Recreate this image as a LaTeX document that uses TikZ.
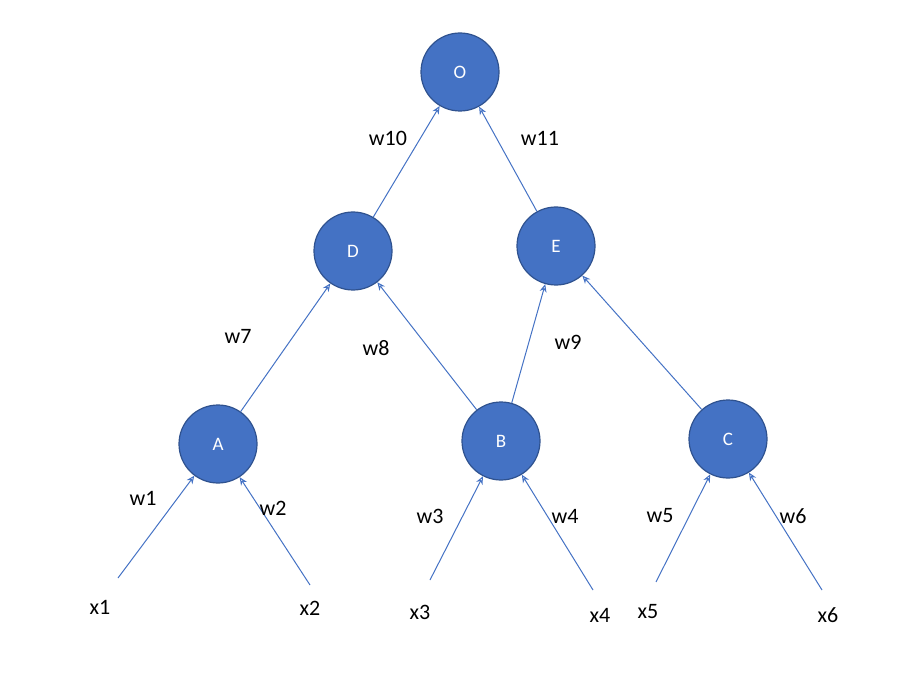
\documentclass[tikz,border=0pt]{standalone}
\usepackage{fontspec}
\setmainfont{Carlito}
\usetikzlibrary{arrows.meta}
\definecolor{nodefill}{RGB}{68, 114, 196}
\definecolor{nodeline}{RGB}{47, 82, 143}
\definecolor{edge}{RGB}{68, 114, 196}

\begin{document}
\begin{tikzpicture}[x=1pt, y=-1pt,
            neuron/.style={circle, draw=nodeline, line width=1.2pt, fill=nodefill, minimum size=78pt, inner sep=0pt, text=white, font=\fontsize{19}{22}\selectfont},
            leaf/.style={font=\fontsize{22}{26}\selectfont},
            weight/.style={font=\fontsize{22}{26}\selectfont},
            link/.style={-{Stealth[length=8pt, width=7pt, open]}, edge, line width=1pt}
        ]
            \useasboundingbox (0,0) rectangle (906,682);
            \node (o) [neuron] at (460,72) {O};
            \node (d) [neuron] at (353,251) {D};
            \node (e) [neuron] at (556,246) {E};
            \node (a) [neuron] at (218,444) {A};
            \node (b) [neuron] at (501,441) {B};
            \node (c) [neuron] at (728,439) {C};

            \node (x1) [leaf] at (100,607) {x1};
            \node (x2) [leaf] at (310,608) {x2};
            \node (x3) [leaf] at (420,612) {x3};
            \node (x4) [leaf] at (600,615) {x4};
            \node (x5) [leaf] at (648,612) {x5};
            \node (x6) [leaf] at (828,615) {x6};

            \coordinate (s1) at (118,578);
            \coordinate (s2) at (310,585);
            \coordinate (s3) at (430,580);
            \coordinate (s4) at (593,590);
            \coordinate (s5) at (656,582);
            \coordinate (s6) at (822,590);

            \draw[link] (s1) -- (a);
            \draw[link] (s2) -- (a);
            \draw[link] (s3) -- (b);
            \draw[link] (s4) -- (b);
            \draw[link] (s5) -- (c);
            \draw[link] (s6) -- (c);
            \draw[link] (a) -- (d);
            \draw[link] (b) -- (d);
            \draw[link] (b) -- (e);
            \draw[link] (c) -- (e);
            \draw[link] (d) -- (o);
            \draw[link] (e) -- (o);

            \node[weight] at (143,498) {w1};
            \node[weight] at (273,508) {w2};
            \node[weight] at (430,516) {w3};
            \node[weight] at (565,516) {w4};
            \node[weight] at (660,516) {w5};
            \node[weight] at (793,516) {w6};
            \node[weight] at (238,336) {w7};
            \node[weight] at (376,348) {w8};
            \node[weight] at (568,342) {w9};
            \node[weight] at (388,138) {w10};
            \node[weight] at (540,138) {w11};
        \end{tikzpicture}
\end{document}
